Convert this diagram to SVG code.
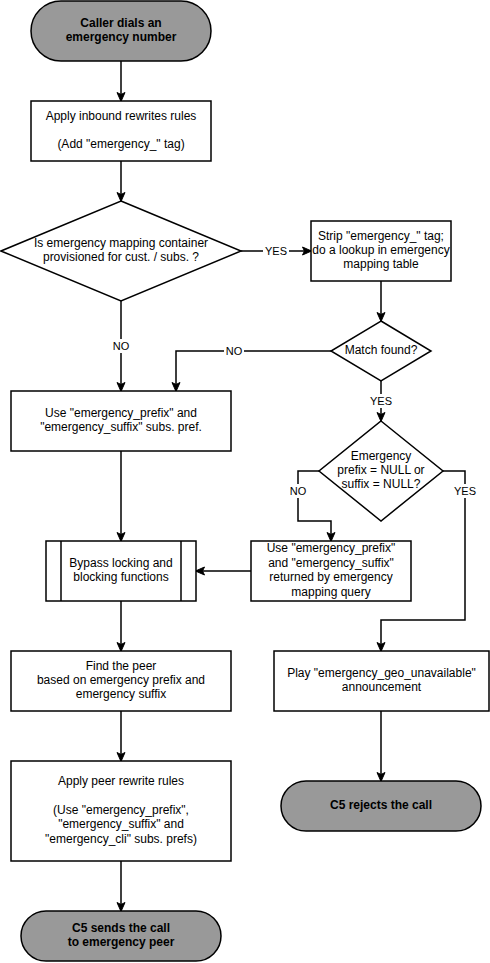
<svg xmlns="http://www.w3.org/2000/svg" width="490" height="963" viewBox="0 0 490 963">
<style>
.n{fill:#ffffff;stroke:#000000;stroke-width:1.5}
.t{fill:#999999;stroke:#000000;stroke-width:1.5}
text{font-family:"Liberation Sans",Arial,sans-serif;font-size:12px;fill:#000000;text-anchor:middle}
.b{font-weight:bold}
.l{font-size:11px}
.c{fill:none;stroke:#000000;stroke-width:1.5;marker-end:url(#ah)}
.lb{fill:#ffffff;stroke:none}
</style>
<defs>
<marker id="ah" markerUnits="userSpaceOnUse" markerWidth="10" markerHeight="10" viewBox="0 0 10 10" refX="9.5" refY="5" orient="auto">
<path d="M1,1 L10,5 L1,9 L3,5 Z" fill="#000000" stroke="#000000" stroke-width="1"/>
</marker>
</defs>
<g id="connectors">
<path class="c" d="M121,61 L121,101"/>
<path class="c" d="M121,161 L121,201"/>
<path class="c" d="M241,251 L311,251"/>
<path class="c" d="M381,281 L381,321"/>
<path class="c" d="M121,301 L121,391"/>
<path class="c" d="M331,351 L176,351 L176,391"/>
<path class="c" d="M381,381 L381,421"/>
<path class="c" d="M319,471 L298,471 L298,521 L331,521 L331,541"/>
<path class="c" d="M443,471 L465,471 L465,620 L381,620 L381,651"/>
<path class="c" d="M251,571 L196,571"/>
<path class="c" d="M121,451 L121,541"/>
<path class="c" d="M121,601 L121,651"/>
<path class="c" d="M121,711 L121,761"/>
<path class="c" d="M121,861 L121,911"/>
<path class="c" d="M381,711 L381,781"/>
<rect class="lb" x="263" y="244" width="26" height="14"/>
<text class="l" x="276" y="255">YES</text>
<rect class="lb" x="111" y="339" width="20" height="14"/>
<text class="l" x="121" y="350">NO</text>
<rect class="lb" x="224" y="344" width="20" height="14"/>
<text class="l" x="234" y="355">NO</text>
<rect class="lb" x="368" y="394" width="26" height="14"/>
<text class="l" x="381" y="405">YES</text>
<rect class="lb" x="288" y="484" width="20" height="14"/>
<text class="l" x="298" y="495">NO</text>
<rect class="lb" x="452" y="484" width="26" height="14"/>
<text class="l" x="465" y="495">YES</text>
</g>
<g id="start">
<rect class="t" x="31" y="1" width="180" height="60" rx="30" ry="30"/>
<text class="b" x="121" y="27">Caller dials an</text>
<text class="b" x="121" y="41">emergency number</text>
</g>
<g id="inbound">
<rect class="n" x="31" y="101" width="180" height="60"/>
<text x="121" y="120">Apply inbound rewrites rules</text>
<text x="121" y="148">(Add "emergency_" tag)</text>
</g>
<g id="container">
<path class="n" d="M121,201 L241,251 L121,301 L1,251 Z"/>
<text x="121" y="247">Is emergency mapping container</text>
<text x="121" y="261">provisioned for cust. / subs. ?</text>
</g>
<g id="strip">
<rect class="n" x="311" y="221" width="140" height="60"/>
<text x="381" y="240">Strip "emergency_" tag;</text>
<text x="381" y="254">do a lookup in emergency</text>
<text x="381" y="268">mapping table</text>
</g>
<g id="match">
<path class="n" d="M381,321 L431,351 L381,381 L331,351 Z"/>
<text x="381" y="354">Match found?</text>
</g>
<g id="subspref">
<rect class="n" x="11" y="391" width="220" height="60"/>
<text x="121" y="417">Use "emergency_prefix" and</text>
<text x="121" y="431">"emergency_suffix" subs. pref.</text>
</g>
<g id="nullcheck">
<path class="n" d="M381,421 L443,471 L381,521 L319,471 Z"/>
<text x="381" y="460">Emergency</text>
<text x="381" y="474">prefix = NULL or</text>
<text x="381" y="488">suffix = NULL?</text>
</g>
<g id="returned">
<rect class="n" x="251" y="541" width="160" height="60"/>
<text x="331" y="552">Use "emergency_prefix"</text>
<text x="331" y="567">and "emergency_suffix"</text>
<text x="331" y="581">returned by emergency</text>
<text x="331" y="596">mapping query</text>
</g>
<g id="bypass">
<rect class="n" x="46" y="541" width="150" height="60"/>
<line x1="61" y1="541" x2="61" y2="601" stroke="#000" stroke-width="1.5"/>
<line x1="181" y1="541" x2="181" y2="601" stroke="#000" stroke-width="1.5"/>
<text x="121" y="567">Bypass locking and</text>
<text x="121" y="581">blocking functions</text>
</g>
<g id="findpeer">
<rect class="n" x="11" y="651" width="220" height="60"/>
<text x="121" y="670">Find the peer</text>
<text x="121" y="684">based on emergency prefix and</text>
<text x="121" y="698">emergency suffix</text>
</g>
<g id="peerrewrite">
<rect class="n" x="11" y="761" width="220" height="100"/>
<text x="121" y="785">Apply peer rewrite rules</text>
<text x="121" y="814">(Use "emergency_prefix",</text>
<text x="121" y="828">"emergency_suffix" and</text>
<text x="121" y="843">"emergency_cli" subs. prefs)</text>
</g>
<g id="sends">
<rect class="t" x="21" y="911" width="200" height="50" rx="25" ry="25"/>
<text class="b" x="121" y="932">C5 sends the call</text>
<text class="b" x="121" y="946">to emergency peer</text>
</g>
<g id="play">
<rect class="n" x="274" y="651" width="215" height="60"/>
<text x="381.5" y="677">Play "emergency_geo_unavailable"</text>
<text x="381.5" y="691">announcement</text>
</g>
<g id="rejects">
<rect class="t" x="281" y="781" width="200" height="50" rx="25" ry="25"/>
<text class="b" x="381" y="809">C5 rejects the call</text>
</g>
</svg>
